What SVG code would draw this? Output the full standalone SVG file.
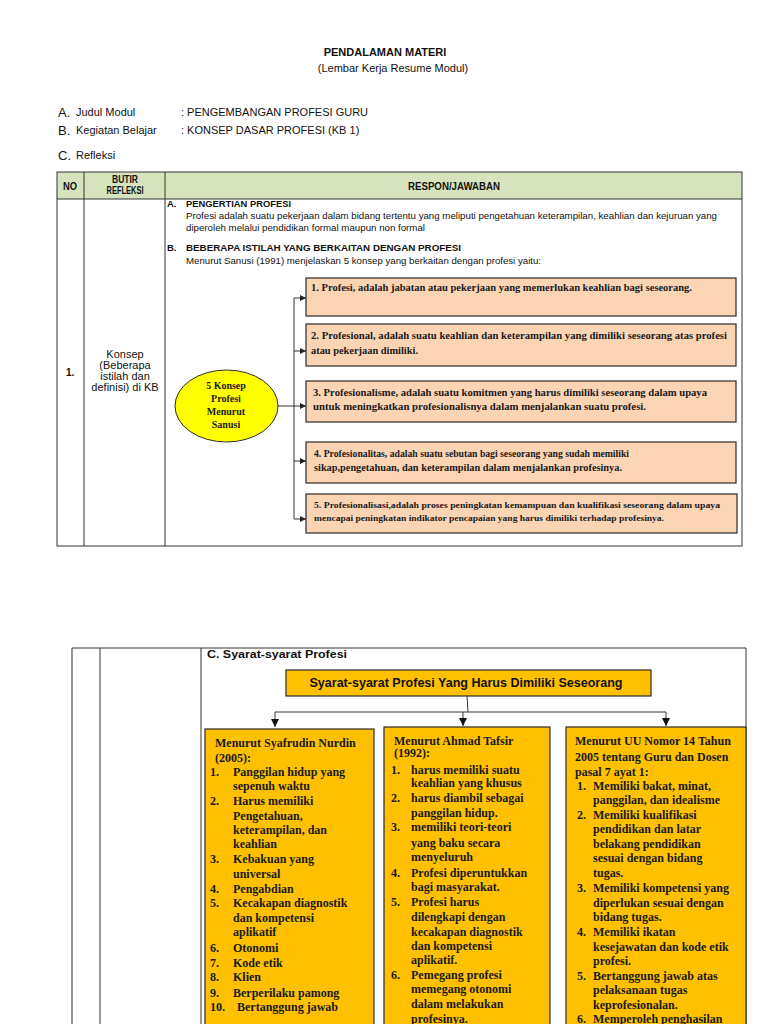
<svg xmlns="http://www.w3.org/2000/svg" width="768" height="1024" viewBox="0 0 768 1024">
<style>
.sans{font-family:"Liberation Sans",Arial,sans-serif;fill:#111}
.b{font-weight:bold}
.ser{font-family:"Liberation Serif","Times New Roman",serif;font-weight:bold;fill:#1a1a1a}
.tl{stroke:#333;stroke-width:1;fill:none}
.peach{fill:#fbd4b4;stroke:#2b2b2b;stroke-width:1.2}
.gold{fill:#ffc000;stroke:#2b2b2b;stroke-width:1.2}
.con{stroke:#333;stroke-width:1;fill:none}
.bt{font-size:9.5px}
.yt{font-size:12px}
</style>
<defs>
<marker id="ar" markerWidth="6" markerHeight="6" refX="6" refY="3" orient="auto" markerUnits="userSpaceOnUse"><path d="M0,0 L6,3 L0,6 z" fill="#222"/></marker>
<marker id="ad" markerWidth="8" markerHeight="8" refX="8" refY="4" orient="auto" markerUnits="userSpaceOnUse"><path d="M0,0 L8,4 L0,8 z" fill="#111"/></marker>
</defs>
<rect width="768" height="1024" fill="#fff"/>

<g id="heading">
<text class="sans b" x="385" y="56" font-size="11" text-anchor="middle">PENDALAMAN MATERI</text>
<text class="sans" x="393" y="72" font-size="11" text-anchor="middle">(Lembar Kerja Resume Modul)</text>
<text class="sans" x="58" y="117" font-size="13">A.</text>
<text class="sans" x="76" y="116" font-size="11">Judul Modul</text>
<text class="sans" x="181" y="116" font-size="11">: PENGEMBANGAN PROFESI GURU</text>
<text class="sans" x="58" y="135" font-size="13">B.</text>
<text class="sans" x="76" y="134" font-size="11">Kegiatan Belajar</text>
<text class="sans" x="181" y="134" font-size="11">: KONSEP DASAR PROFESI (KB 1)</text>
<text class="sans" x="58" y="160" font-size="13">C.</text>
<text class="sans" x="76" y="159" font-size="11">Refleksi</text>
</g>

<g id="table1">
<rect x="57" y="172" width="685" height="27" fill="#d6e3bc"/>
<rect x="57" y="172" width="685" height="374" class="tl"/>
<line x1="84" y1="172" x2="84" y2="546" class="tl"/>
<line x1="165" y1="172" x2="165" y2="546" class="tl"/>
<line x1="57" y1="199" x2="742" y2="199" class="tl"/>
<text class="sans b" x="63" y="190" font-size="10" textLength="14" lengthAdjust="spacingAndGlyphs">NO</text>
<text class="sans b" x="125" y="183" font-size="10" text-anchor="middle" textLength="26" lengthAdjust="spacingAndGlyphs">BUTIR</text>
<text class="sans b" x="125" y="194" font-size="10" text-anchor="middle" textLength="37" lengthAdjust="spacingAndGlyphs">REFLEKSI</text>
<text class="sans b" x="454" y="190" font-size="10" text-anchor="middle" textLength="92" lengthAdjust="spacingAndGlyphs">RESPON/JAWABAN</text>
<text class="sans b" x="66" y="376" font-size="10">1.</text>
<text class="sans" x="125" y="358" font-size="11" text-anchor="middle">Konsep</text>
<text class="sans" x="125" y="369" font-size="11" text-anchor="middle">(Beberapa</text>
<text class="sans" x="125" y="380" font-size="11" text-anchor="middle">istilah dan</text>
<text class="sans" x="125" y="391" font-size="11" text-anchor="middle">definisi) di KB</text>
<text class="sans b" x="167" y="207" font-size="9.5">A.</text>
<text class="sans b" x="186" y="207" font-size="9.5" textLength="105" lengthAdjust="spacingAndGlyphs">PENGERTIAN PROFESI</text>
<text class="sans" x="186" y="219" font-size="9.5" textLength="531" lengthAdjust="spacingAndGlyphs">Profesi adalah suatu pekerjaan dalam bidang tertentu yang meliputi pengetahuan keterampilan, keahlian dan kejuruan yang</text>
<text class="sans" x="186" y="231" font-size="9.5" textLength="239" lengthAdjust="spacingAndGlyphs">diperoleh melalui pendidikan formal maupun non formal</text>
<text class="sans b" x="167" y="251" font-size="9.5">B.</text>
<text class="sans b" x="186" y="251" font-size="9.5" textLength="275" lengthAdjust="spacingAndGlyphs">BEBERAPA ISTILAH YANG BERKAITAN DENGAN PROFESI</text>
<text class="sans" x="186" y="264" font-size="9.5" textLength="355" lengthAdjust="spacingAndGlyphs">Menurut Sanusi (1991) menjelaskan 5 konsep yang berkaitan dengan profesi yaitu:</text>
</g>

<g id="n-ellipse">
<ellipse cx="226.5" cy="406" rx="51.5" ry="36" fill="#ffff00" stroke="#2b2b2b" stroke-width="1"/>
<text class="ser" x="226" y="389" font-size="10" text-anchor="middle" fill="#333">5 Konsep</text>
<text class="ser" x="226" y="402" font-size="10" text-anchor="middle" fill="#333">Profesi</text>
<text class="ser" x="226" y="415" font-size="10" text-anchor="middle" fill="#333">Menurut</text>
<text class="ser" x="226" y="428" font-size="10" text-anchor="middle" fill="#333">Sanusi</text>
</g>

<g id="n-k1">
<rect x="306" y="278" width="430" height="38" class="peach"/>
<text class="ser bt" x="311" y="291" textLength="381" lengthAdjust="spacingAndGlyphs">1. Profesi, adalah jabatan atau pekerjaan yang memerlukan keahlian bagi seseorang.</text>
</g>
<g id="n-k2">
<rect x="306" y="324" width="430" height="42" class="peach"/>
<text class="ser bt" x="311" y="339" textLength="416" lengthAdjust="spacingAndGlyphs">2. Profesional, adalah suatu keahlian dan keterampilan yang dimiliki seseorang atas profesi</text>
<text class="ser bt" x="311" y="354" textLength="107" lengthAdjust="spacingAndGlyphs">atau pekerjaan dimiliki.</text>
</g>
<g id="n-k3">
<rect x="306" y="381" width="430" height="41" class="peach"/>
<text class="ser bt" x="313" y="396" textLength="394" lengthAdjust="spacingAndGlyphs">3. Profesionalisme, adalah suatu komitmen yang harus dimiliki seseorang dalam upaya</text>
<text class="ser bt" x="313" y="410" textLength="333" lengthAdjust="spacingAndGlyphs">untuk meningkatkan profesionalisnya dalam menjalankan suatu profesi.</text>
</g>
<g id="n-k4">
<rect x="306" y="442" width="430" height="41" class="peach"/>
<text class="ser bt" x="314" y="457" textLength="315" lengthAdjust="spacingAndGlyphs">4. Profesionalitas, adalah suatu sebutan bagi seseorang yang sudah memiliki</text>
<text class="ser bt" x="314" y="471" textLength="308" lengthAdjust="spacingAndGlyphs">sikap,pengetahuan, dan keterampilan dalam menjalankan profesinya.</text>
</g>
<g id="n-k5">
<rect x="306" y="494" width="431" height="39" class="peach"/>
<text class="ser" x="314" y="508" font-size="8.5" textLength="406" lengthAdjust="spacingAndGlyphs">5. Profesionalisasi,adalah proses peningkatan kemampuan dan kualifikasi seseorang dalam upaya</text>
<text class="ser" x="314" y="521" font-size="8.5" textLength="350" lengthAdjust="spacingAndGlyphs">mencapai peningkatan indikator pencapaian yang harus dimiliki terhadap profesinya.</text>
</g>

<g id="connectors1">
<line x1="278" y1="406" x2="294" y2="406" class="con"/>
<line x1="294" y1="298" x2="294" y2="519" class="con"/>
<line x1="294" y1="298" x2="306" y2="298" class="con" marker-end="url(#ar)"/>
<line x1="294" y1="351" x2="306" y2="351" class="con" marker-end="url(#ar)"/>
<line x1="294" y1="406" x2="306" y2="406" class="con" marker-end="url(#ar)"/>
<line x1="294" y1="461" x2="306" y2="461" class="con" marker-end="url(#ar)"/>
<line x1="294" y1="519" x2="306" y2="519" class="con" marker-end="url(#ar)"/>
</g>

<g id="table2">
<line x1="72" y1="648" x2="746" y2="648" class="tl"/>
<line x1="72" y1="648" x2="72" y2="1024" class="tl"/>
<line x1="100" y1="648" x2="100" y2="1024" class="tl"/>
<line x1="201" y1="648" x2="201" y2="1024" class="tl"/>
<line x1="746" y1="648" x2="746" y2="1024" class="tl"/>
<text class="sans b" x="207" y="658" font-size="11" textLength="140" lengthAdjust="spacingAndGlyphs">C. Syarat-syarat Profesi</text>
</g>

<g id="n-title">
<rect x="286" y="670" width="365" height="26" class="gold"/>
<text class="sans b" x="466" y="687" font-size="12" text-anchor="middle" textLength="313" lengthAdjust="spacingAndGlyphs">Syarat-syarat Profesi Yang Harus Dimiliki Seseorang</text>
</g>

<g id="connectors2">
<line x1="467" y1="696" x2="468" y2="712" class="con" stroke="#777"/>
<line x1="275" y1="712" x2="666" y2="712" class="con"/>
<line x1="275" y1="712" x2="275" y2="727" class="con" marker-end="url(#ad)"/>
<line x1="463" y1="712" x2="463" y2="726" class="con" marker-end="url(#ad)"/>
<line x1="666" y1="712" x2="666" y2="726" class="con" marker-end="url(#ad)"/>
</g>

<g id="n-nurdin">
<rect x="205" y="729" width="169" height="310" class="gold"/>
<g class="ser yt">
<text x="215" y="747">Menurut Syafrudin Nurdin</text>
<text x="215" y="762">(2005):</text>
<text x="210" y="776">1.</text><text x="233" y="776">Panggilan hidup yang</text>
<text x="233" y="790">sepenuh waktu</text>
<text x="210" y="805">2.</text><text x="233" y="805">Harus memiliki</text>
<text x="233" y="820">Pengetahuan,</text>
<text x="233" y="834">keterampilan, dan</text>
<text x="233" y="848">keahlian</text>
<text x="210" y="863">3.</text><text x="233" y="863">Kebakuan yang</text>
<text x="233" y="878">universal</text>
<text x="210" y="893">4.</text><text x="233" y="893">Pengabdian</text>
<text x="210" y="907">5.</text><text x="233" y="907">Kecakapan diagnostik</text>
<text x="233" y="922">dan kompetensi</text>
<text x="233" y="936">aplikatif</text>
<text x="210" y="952">6.</text><text x="233" y="952">Otonomi</text>
<text x="210" y="967">7.</text><text x="233" y="967">Kode etik</text>
<text x="210" y="981">8.</text><text x="233" y="981">Klien</text>
<text x="210" y="997">9.</text><text x="233" y="997">Berperilaku pamong</text>
<text x="210" y="1011">10.</text><text x="237" y="1011">Bertanggung jawab</text>
</g>
</g>

<g id="n-tafsir">
<rect x="384" y="727" width="166" height="310" class="gold"/>
<g class="ser yt">
<text x="394" y="745">Menurut Ahmad Tafsir</text>
<text x="394" y="757">(1992):</text>
<text x="391" y="774">1.</text><text x="411" y="774">harus memiliki suatu</text>
<text x="411" y="787">keahlian yang khusus</text>
<text x="391" y="802">2.</text><text x="411" y="802">harus diambil sebagai</text>
<text x="411" y="817">panggilan hidup.</text>
<text x="391" y="831">3.</text><text x="411" y="831">memiliki teori-teori</text>
<text x="411" y="847">yang baku secara</text>
<text x="411" y="861">menyeluruh</text>
<text x="391" y="877">4.</text><text x="411" y="877">Profesi diperuntukkan</text>
<text x="411" y="891">bagi masyarakat.</text>
<text x="391" y="906">5.</text><text x="411" y="906">Profesi harus</text>
<text x="411" y="921">dilengkapi dengan</text>
<text x="411" y="936">kecakapan diagnostik</text>
<text x="411" y="950">dan kompetensi</text>
<text x="411" y="964">aplikatif.</text>
<text x="391" y="979">6.</text><text x="411" y="979">Pemegang profesi</text>
<text x="411" y="993">memegang otonomi</text>
<text x="411" y="1008">dalam melakukan</text>
<text x="411" y="1023">profesinya.</text>
</g>
</g>

<g id="n-uu">
<rect x="566" y="727" width="180" height="310" class="gold"/>
<g class="ser yt">
<text x="575" y="745">Menurut UU Nomor 14 Tahun</text>
<text x="575" y="761">2005 tentang Guru dan Dosen</text>
<text x="575" y="776">pasal 7 ayat 1:</text>
<text x="577" y="790">1.</text><text x="593" y="790">Memiliki bakat, minat,</text>
<text x="593" y="804">panggilan, dan idealisme</text>
<text x="577" y="819">2.</text><text x="593" y="819">Memiliki kualifikasi</text>
<text x="593" y="833">pendidikan dan latar</text>
<text x="593" y="848">belakang pendidikan</text>
<text x="593" y="862">sesuai dengan bidang</text>
<text x="593" y="877">tugas.</text>
<text x="577" y="892">3.</text><text x="593" y="892">Memiliki kompetensi yang</text>
<text x="593" y="907">diperlukan sesuai dengan</text>
<text x="593" y="921">bidang tugas.</text>
<text x="577" y="936">4.</text><text x="593" y="936">Memiliki ikatan</text>
<text x="593" y="951">kesejawatan dan kode etik</text>
<text x="593" y="965">profesi.</text>
<text x="577" y="980">5.</text><text x="593" y="980">Bertanggung jawab atas</text>
<text x="593" y="994">pelaksanaan tugas</text>
<text x="593" y="1009">keprofesionalan.</text>
<text x="577" y="1023">6.</text><text x="593" y="1023">Memperoleh penghasilan</text>
</g>
</g>
</svg>
